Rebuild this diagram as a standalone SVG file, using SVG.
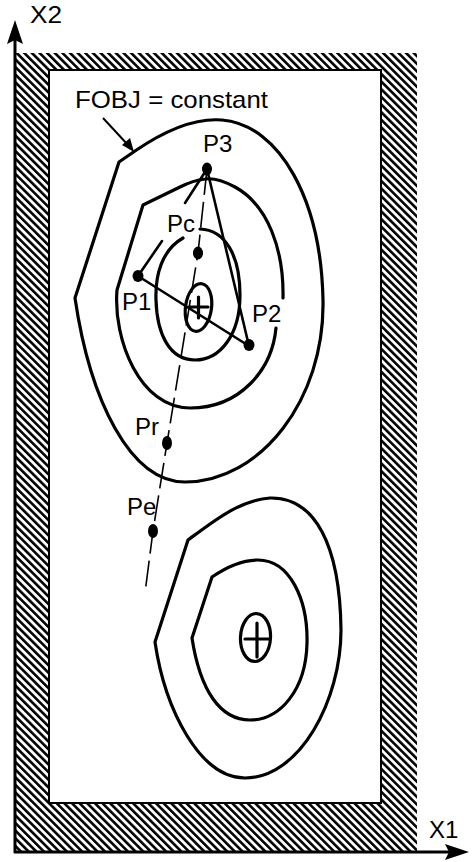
<svg xmlns="http://www.w3.org/2000/svg" width="474" height="862" viewBox="0 0 474 862">
<defs>
<pattern id="hatch" patternUnits="userSpaceOnUse" width="5.4" height="10" patternTransform="rotate(-45)">
<rect x="0" y="0" width="2.6" height="10" fill="#000"/>
</pattern>
</defs>
<style>
.c{fill:none;stroke:#000;stroke-width:3.2;stroke-linejoin:round;stroke-linecap:round}
.t{font-family:"Liberation Sans",Arial,Helvetica,sans-serif;font-size:24px;fill:#000}
.dot{fill:#000}
.ln{fill:none;stroke:#000;stroke-width:2.6;stroke-linecap:round}
.dash{fill:none;stroke:#000;stroke-width:1.6;stroke-dasharray:26 7}
</style>
<rect width="474" height="862" fill="#fff"/>
<g id="frame">
<rect x="15" y="53" width="402" height="799" fill="url(#hatch)"/>
<rect x="49" y="70" width="332" height="733" fill="#fff" stroke="#000" stroke-width="2"/>
</g>
<g id="axes">
<line x1="15" y1="853" x2="15" y2="36" stroke="#000" stroke-width="3"/>
<path d="M15,20 L23,44 L15,40 L7,44 Z" fill="#000"/>
<line x1="14" y1="852" x2="454" y2="852" stroke="#000" stroke-width="3"/>
<path d="M469,852 L445,860 L449,852 L445,844 Z" fill="#000"/>
<text class="t" x="30" y="23" textLength="32" lengthAdjust="spacingAndGlyphs">X2</text>
<text class="t" x="429" y="838">X1</text>
</g>
<g id="upper-contours">
<path class="c" d="M119,162 L135,151 C170,127 198,118 222,120 C280,125 321,200 323,300 C325,400 260,482 185,482 C130,482 90,400 75,298 Z"/>
<path class="c" d="M283,298 C284,250 268,205 235,187 C222,180 212,178 205,179 C196,180 188,183 180,187 L143,205 L117,290 C113,340 140,408 190,408 C240,408 272,370 276,328"/>
<path class="c" d="M200,229 C225,230 240,255 240,295 C240,335 220,360 195,360 C170,360 157,335 156,300 C155,275 162,250 183,238"/>
<ellipse class="c" cx="198.5" cy="307.5" rx="13" ry="24" transform="rotate(8 198.5 307.5)"/>
<path class="c" d="M189,307 H208 M198.5,297 V318"/>
</g>
<g id="lower-contours">
<path class="c" d="M188,540 C215,520 240,500 270,498 C315,497 340,545 341,630 C341,700 300,778 245,778 C200,778 165,710 155,642 Z"/>
<path class="c" d="M212,577 C225,568 240,560 258,560 C290,560 308,600 307,643 C306,690 280,720 250,720 C220,720 200,690 192,638 Z"/>
<ellipse class="c" cx="255.5" cy="637.5" rx="15" ry="24" transform="rotate(3 255.5 637.5)"/>
<path class="c" d="M245,639 H270 M257,623 V657"/>
</g>
<g id="connectors">
<line class="ln" x1="207" y1="169" x2="185" y2="203"/>
<line class="ln" x1="162" y1="241" x2="138" y2="276"/>
<line class="ln" x1="207" y1="169" x2="249" y2="346"/>
<line class="ln" x1="138" y1="276" x2="249" y2="346" stroke-width="3"/>
<polyline class="dash" points="207,169 198,253 167,443 153,531 145,593"/>
<line x1="103" y1="118" x2="128" y2="145" stroke="#000" stroke-width="2"/>
<path d="M134,152 L122,145 L130,138 Z" fill="#000"/>
</g>
<g id="P3"><ellipse class="dot" cx="207" cy="169" rx="5" ry="6.5"/><text class="t" x="203" y="152">P3</text></g>
<g id="Pc"><ellipse class="dot" cx="198" cy="253" rx="5" ry="6.5"/><text class="t" x="167" y="232">Pc</text></g>
<g id="P1"><ellipse class="dot" cx="138" cy="276" rx="5.5" ry="6"/><text class="t" x="122" y="310">P1</text></g>
<g id="P2"><ellipse class="dot" cx="249" cy="345" rx="5.5" ry="6"/><text class="t" x="252" y="322">P2</text></g>
<g id="Pr"><ellipse class="dot" cx="167" cy="443" rx="5" ry="7"/><text class="t" x="135" y="435">Pr</text></g>
<g id="Pe"><ellipse class="dot" cx="153" cy="531" rx="5" ry="7"/><text class="t" x="127" y="515">Pe</text></g>
<g id="label-fobj"><text class="t" x="75" y="108" textLength="193" lengthAdjust="spacingAndGlyphs">FOBJ = constant</text></g>
</svg>
